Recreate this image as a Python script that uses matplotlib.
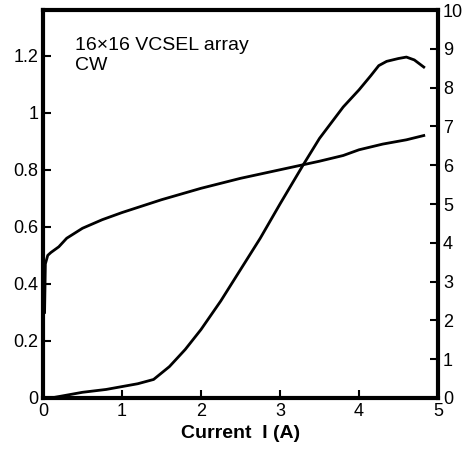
import matplotlib
matplotlib.use("Agg")
import matplotlib.pyplot as plt
plt.rcParams['font.family'] = ['Liberation Sans', 'DejaVu Sans']

px = [0.1, 0.3, 0.5, 0.8, 1.0, 1.2, 1.4, 1.6, 1.8, 2.0, 2.25, 2.5, 2.75, 3.0, 3.3, 3.5, 3.8, 4.0, 4.15, 4.25, 4.35, 4.5, 4.6, 4.7, 4.82]
py = [0.0, 0.01, 0.02, 0.03, 0.04, 0.05, 0.065, 0.11, 0.17, 0.24, 0.34, 0.45, 0.56, 0.68, 0.82, 0.91, 1.02, 1.08, 1.13, 1.165, 1.18, 1.19, 1.195, 1.185, 1.16]
vx = [0.02, 0.03, 0.06, 0.1, 0.2, 0.3, 0.5, 0.75, 1.0, 1.5, 2.0, 2.5, 3.0, 3.5, 3.8, 4.0, 4.3, 4.6, 4.82]
vy = [0.30, 0.47, 0.50, 0.51, 0.53, 0.56, 0.595, 0.625, 0.65, 0.695, 0.735, 0.77, 0.80, 0.83, 0.85, 0.87, 0.89, 0.905, 0.92]

fig = plt.figure(figsize=(4.74, 4.74), dpi=100)
ax = fig.add_axes([43/474, 1-398/474, 395/474, 388/474])
ax.plot(px, py, color="black", lw=2)
ax.plot(vx, vy, color="black", lw=2)
ax.set_xlim(0, 5)
ax.set_ylim(0, 1.36)
ax.set_yticks([0, 0.2, 0.4, 0.6, 0.8, 1.0, 1.2])
ax.set_yticklabels(["0", "0.2", "0.4", "0.6", "0.8", "1", "1.2"])
ax.set_xticks(range(6))
ax.tick_params(direction="in", labelsize=13, width=1.5, length=6)
for s in ax.spines.values():
    s.set_linewidth(3)
ax2 = ax.twinx()
ax2.set_ylim(0, 10)
ax2.set_yticks(range(11))
ax2.tick_params(direction="in", labelsize=13, width=1.5, length=6)
ax.set_xlabel("Current  I (A)", fontsize=14, fontweight="bold")
ax.text(0.4, 1.2, "16×16 VCSEL array\nCW", fontsize=14, va="center", linespacing=1.2)
fig.savefig("out.png", dpi=100)
